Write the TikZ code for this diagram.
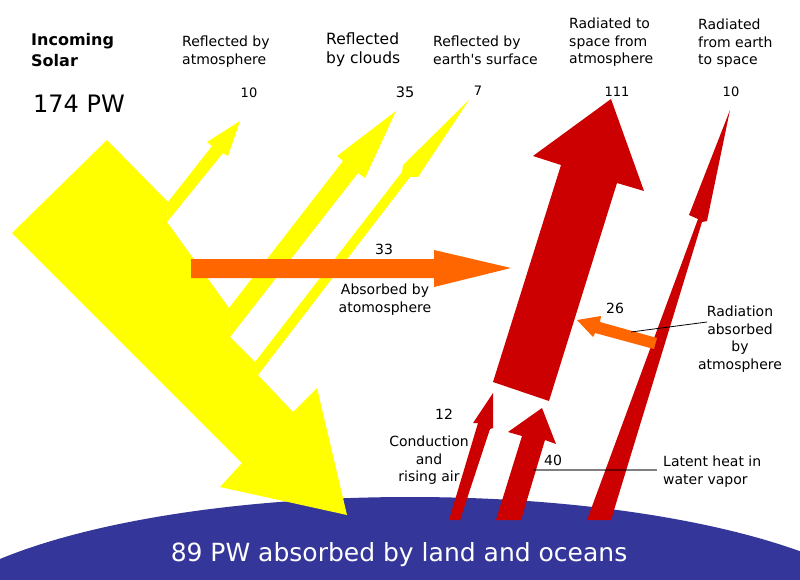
\documentclass[tikz,border=0pt]{standalone}
\usepackage{fontspec}
\setmainfont{DejaVu Sans}[Ligatures=TeXOff]
\definecolor{sunyellow}{RGB}{255,255,0}
\definecolor{heatred}{RGB}{204,0,0}
\definecolor{absorbed}{RGB}{255,102,0}
\definecolor{earthblue}{RGB}{53,54,153}
\newcommand{\fs}[2]{\fontsize{#1}{#2}\selectfont}
\begin{document}
\begin{tikzpicture}[x=1pt,y=-1pt,
    txt/.style={inner sep=0pt,font=\fs{14}{17.5},align=left,anchor=north west},
    ctxt/.style={inner sep=0pt,font=\fs{14}{17.5},align=center,anchor=north},
    num/.style={inner sep=0pt,font=\fs{13}{13}},
    bignum/.style={inner sep=0pt,font=\fs{14}{14}}]
    \clip (0,0) rectangle (800,580);
    \fill[white] (0,0) rectangle (800,580);
    \fill[earthblue] (410,642) ellipse [x radius=500pt,y radius=145pt];
    \fill[sunyellow] (12,233)--(107,140)--(168,202)--(167,222)--(229,308)--(230,337)--(255,362)--(258,375)--(293,412)--(317,388)--(347,515)--(220,487)--(242,463)--cycle;
    \fill[sunyellow] (168,202)--(212,146)--(207,142)--(240,121)--(228,156)--(223,153)--(167,222)--cycle;
    \fill[sunyellow] (229,308)--(343,161)--(337,156)--(396,111)--(365,178)--(358,173)--(230,337)--cycle;
    \fill[sunyellow] (255,362)--(402,172)--(403,165)--(469,100)--(418,177)--(410,177)--(258,375)--cycle;
    \fill[absorbed] (191,259)--(434,259)--(434,250)--(511,268)--(434,287)--(434,278)--(191,278)--cycle;
    \fill[heatred] (493,382)--(561,165)--(533,156)--(611,99)--(644,191)--(617,183)--(549,401)--cycle;
    \fill[heatred] (587,520)--(698,219)--(689,215)--(730,110)--(707,221)--(702,222)--(611,520)--cycle;
    \fill[heatred] (449,520)--(478,423)--(473,423)--(493,393)--(493,428)--(490,429)--(460,520)--cycle;
    \fill[heatred] (496,520)--(522,436)--(508,432)--(542,408)--(556,444)--(545,440)--(521,520)--cycle;
    \fill[absorbed] (577,320)--(601,316)--(600,322)--(657,338)--(654,349)--(595,333)--(593,337)--cycle;
    \node[txt,font=\bfseries\fs{16}{21}] (incoming) at (31,33) {Incoming\\Solar};
    \node[txt,font=\fs{24}{24}] (pw174) at (33,95) {174 PW};
    \node[txt] (refatm) at (182,36) {Reflected by\\atmosphere};
    \node[txt,font=\fs{15.5}{19}] (refcloud) at (326,33) {Reflected\\by clouds};
    \node[txt] (refsurf) at (433,36) {Reflected by\\earth's surface};
    \node[txt] (radatm) at (569,18) {Radiated to\\space from\\atmosphere};
    \node[txt] (radearth) at (698,19) {Radiated\\from earth\\to space};
    \node[num] (n10a) at (249,93) {10};
    \node[num,font=\fs{14.5}{14.5}] (n35) at (405,92) {35};
    \node[num] (n7) at (478,91) {7};
    \node[num] (n111) at (617,92) {111};
    \node[num] (n10b) at (731,92) {10};
    \node[bignum] (n33) at (384,249) {33};
    \node[ctxt] (absatm) at (385,284) {Absorbed by\\atomosphere};
    \node[bignum] (n26) at (615,308) {26};
    \node[ctxt] (radabs) at (740,306) {Radiation\\absorbed\\by\\atmosphere};
    \node[bignum] (n12) at (444,414) {12};
    \node[ctxt] (conduct) at (429,436) {Conduction\\and\\rising air};
    \node[bignum] (n40) at (553,460) {40};
    \node[txt] (latent) at (663,456) {Latent heat in\\water vapor};
    \node[inner sep=0pt,font=\fs{25}{25},text=white] (land) at (399,555) {89 PW absorbed by land and oceans};
    \coordinate (lead26) at (631,332);
    \coordinate (lead26end) at (707,322);
    \draw[line width=0.8pt] (lead26)--(lead26end);
    \coordinate (lead40) at (533,470);
    \draw[line width=2pt,opacity=0.5] (lead40)--([xshift=-6pt]lead40-|latent.west);
\end{tikzpicture}
\end{document}
